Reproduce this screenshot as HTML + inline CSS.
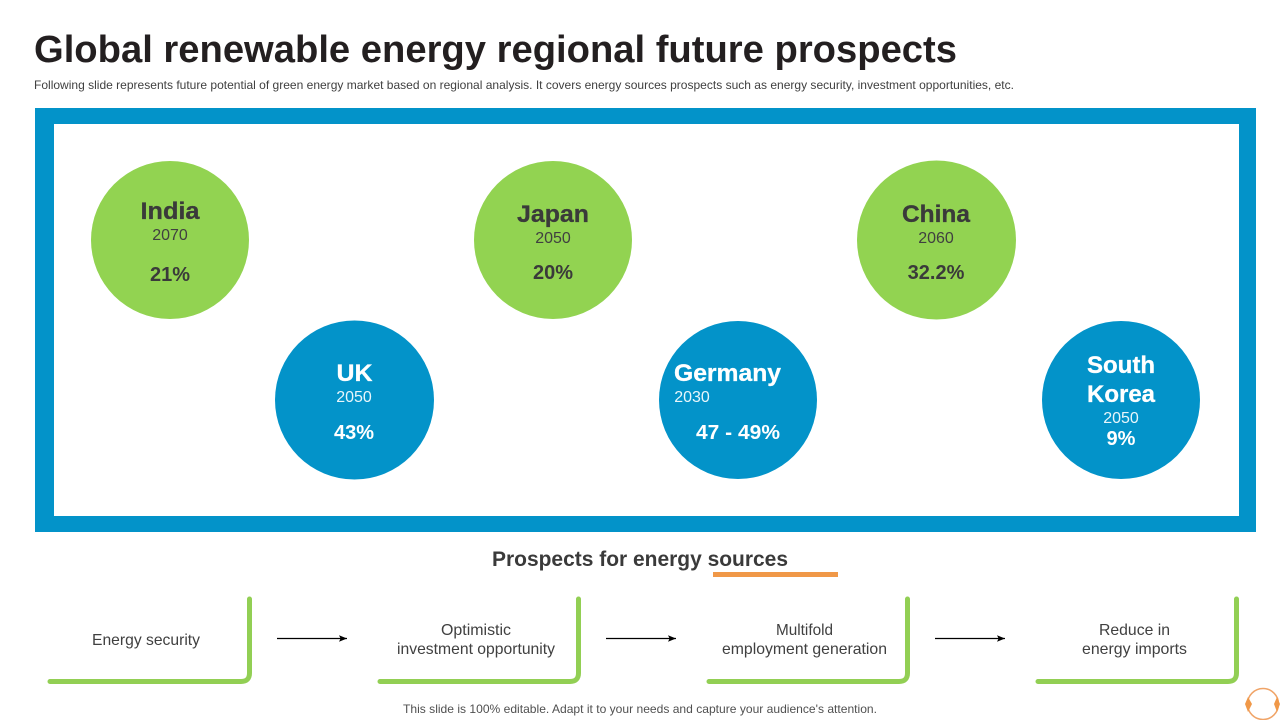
<!DOCTYPE html>
<html lang="en">
<head>
<meta charset="utf-8">
<title>Global renewable energy regional future prospects</title>
<style>
html,body{margin:0;padding:0;background:#fff;width:1280px;height:720px;overflow:hidden}
svg{display:block}
text{font-family:"Liberation Sans",sans-serif}
.name{font-weight:700;font-size:24px;text-anchor:middle;stroke-width:.3px}
.yr{font-size:16px;text-anchor:middle}
.pct{font-weight:700;font-size:20px;text-anchor:middle}
.lbl{font-size:16px;fill:#404040;text-anchor:middle}
.card{fill:none;stroke:#92cf54;stroke-width:5;stroke-linecap:round}
</style>
</head>
<body>
<svg width="1280" height="720" viewBox="0 0 1280 720">
<defs>
<marker id="ah" viewBox="0 0 8 8" refX="8" refY="4" markerWidth="8" markerHeight="8" markerUnits="userSpaceOnUse" orient="auto"><path d="M0 0.8L8 4L0 7.2L1.6 4Z" fill="#000"/></marker>
</defs>
<rect width="1280" height="720" fill="#fff"/>
<text x="34" y="62" font-size="38" font-weight="700" fill="#231f20" textLength="923" lengthAdjust="spacingAndGlyphs">Global renewable energy regional future prospects</text>
<text x="34" y="89" font-size="12" fill="#404040" textLength="980" lengthAdjust="spacingAndGlyphs">Following slide represents future potential of green energy market based on regional analysis. It covers energy sources prospects such as energy security, investment opportunities, etc.</text>

<rect x="35" y="108" width="1221" height="424" fill="#0393c9"/>
<rect x="54" y="124" width="1185" height="392" fill="#fff"/>

<g>
<circle cx="170" cy="240" r="79" fill="#92d351"/>
<text x="170" y="219" class="name" fill="#3a3a3a" stroke="#3a3a3a" textLength="59" lengthAdjust="spacingAndGlyphs">India</text>
<text x="170" y="240" class="yr" fill="#404040">2070</text>
<text x="170" y="281" class="pct" fill="#3a3a3a">21%</text>
</g>
<g>
<circle cx="553" cy="240" r="79" fill="#92d351"/>
<text x="553" y="222" class="name" fill="#3a3a3a" stroke="#3a3a3a" textLength="72" lengthAdjust="spacingAndGlyphs">Japan</text>
<text x="553" y="243" class="yr" fill="#404040">2050</text>
<text x="553" y="279" class="pct" fill="#3a3a3a">20%</text>
</g>
<g>
<circle cx="936.500" cy="240" r="79.500" fill="#92d351"/>
<text x="936" y="222" class="name" fill="#3a3a3a" stroke="#3a3a3a" textLength="68" lengthAdjust="spacingAndGlyphs">China</text>
<text x="936" y="243" class="yr" fill="#404040">2060</text>
<text x="936" y="279" class="pct" fill="#3a3a3a">32.2%</text>
</g>
<g>
<circle cx="354.500" cy="400" r="79.500" fill="#0393c9"/>
<text x="354.500" y="381" class="name" fill="#fff" stroke="#fff" textLength="36" lengthAdjust="spacingAndGlyphs">UK</text>
<text x="354" y="402" class="yr" fill="#e8f6fb">2050</text>
<text x="354" y="439" class="pct" fill="#fff">43%</text>
</g>
<g>
<circle cx="738" cy="400" r="79" fill="#0393c9"/>
<text x="727.500" y="381" class="name" fill="#fff" stroke="#fff" textLength="107" lengthAdjust="spacingAndGlyphs">Germany</text>
<text x="692" y="402" class="yr" fill="#e8f6fb">2030</text>
<text x="738" y="439" class="pct" fill="#fff" textLength="84" lengthAdjust="spacingAndGlyphs">47 - 49%</text>
</g>
<g>
<circle cx="1121" cy="400" r="79" fill="#0393c9"/>
<text x="1121" y="373" class="name" fill="#fff" stroke="#fff" textLength="68" lengthAdjust="spacingAndGlyphs">South</text>
<text x="1121" y="402" class="name" fill="#fff" stroke="#fff" textLength="68" lengthAdjust="spacingAndGlyphs">Korea</text>
<text x="1121" y="423" class="yr" fill="#e8f6fb">2050</text>
<text x="1121" y="445" class="pct" fill="#fff">9%</text>
</g>

<text x="492" y="566" font-size="21" font-weight="700" fill="#3a3a3a" textLength="296" lengthAdjust="spacingAndGlyphs">Prospects for energy sources</text>
<rect x="713" y="572" width="125" height="5" fill="#f09848"/>

<g>
<path d="M249.500 599V673Q249.500 681.500 241 681.500H50" class="card"/>
<text x="146" y="645" class="lbl" textLength="108" lengthAdjust="spacingAndGlyphs">Energy security</text>
</g>
<line x1="277" y1="638.500" x2="347" y2="638.500" stroke="#000" stroke-width="1.200" marker-end="url(#ah)"/>
<g>
<path d="M578.500 599V673Q578.500 681.500 570 681.500H380" class="card"/>
<text x="476" y="635" class="lbl" textLength="70" lengthAdjust="spacingAndGlyphs">Optimistic</text>
<text x="476" y="654" class="lbl" textLength="158" lengthAdjust="spacingAndGlyphs">investment opportunity</text>
</g>
<line x1="606" y1="638.500" x2="676" y2="638.500" stroke="#000" stroke-width="1.200" marker-end="url(#ah)"/>
<g>
<path d="M907.500 599V673Q907.500 681.500 899 681.500H709" class="card"/>
<text x="804.500" y="635" class="lbl" textLength="57" lengthAdjust="spacingAndGlyphs">Multifold</text>
<text x="804.500" y="654" class="lbl" textLength="165" lengthAdjust="spacingAndGlyphs">employment generation</text>
</g>
<line x1="935" y1="638.500" x2="1005" y2="638.500" stroke="#000" stroke-width="1.200" marker-end="url(#ah)"/>
<g>
<path d="M1236.500 599V673Q1236.500 681.500 1228 681.500H1038" class="card"/>
<text x="1134.500" y="635" class="lbl" textLength="71" lengthAdjust="spacingAndGlyphs">Reduce in</text>
<text x="1134.500" y="654" class="lbl" textLength="105" lengthAdjust="spacingAndGlyphs">energy imports</text>
</g>

<text x="640" y="713" font-size="12" fill="#505050" text-anchor="middle" textLength="474" lengthAdjust="spacingAndGlyphs">This slide is 100% editable. Adapt it to your needs and capture your audience's attention.</text>

<g>
<circle cx="1263" cy="704" r="15.500" fill="none" stroke="#f0a468" stroke-width="1.500"/>
<path d="M1248 697L1252 704L1248 712L1245 704Z" fill="#f09848"/>
<path d="M1277 697L1280 704L1277 712L1274 704Z" fill="#f09848"/>
</g>
</svg>
</body>
</html>
